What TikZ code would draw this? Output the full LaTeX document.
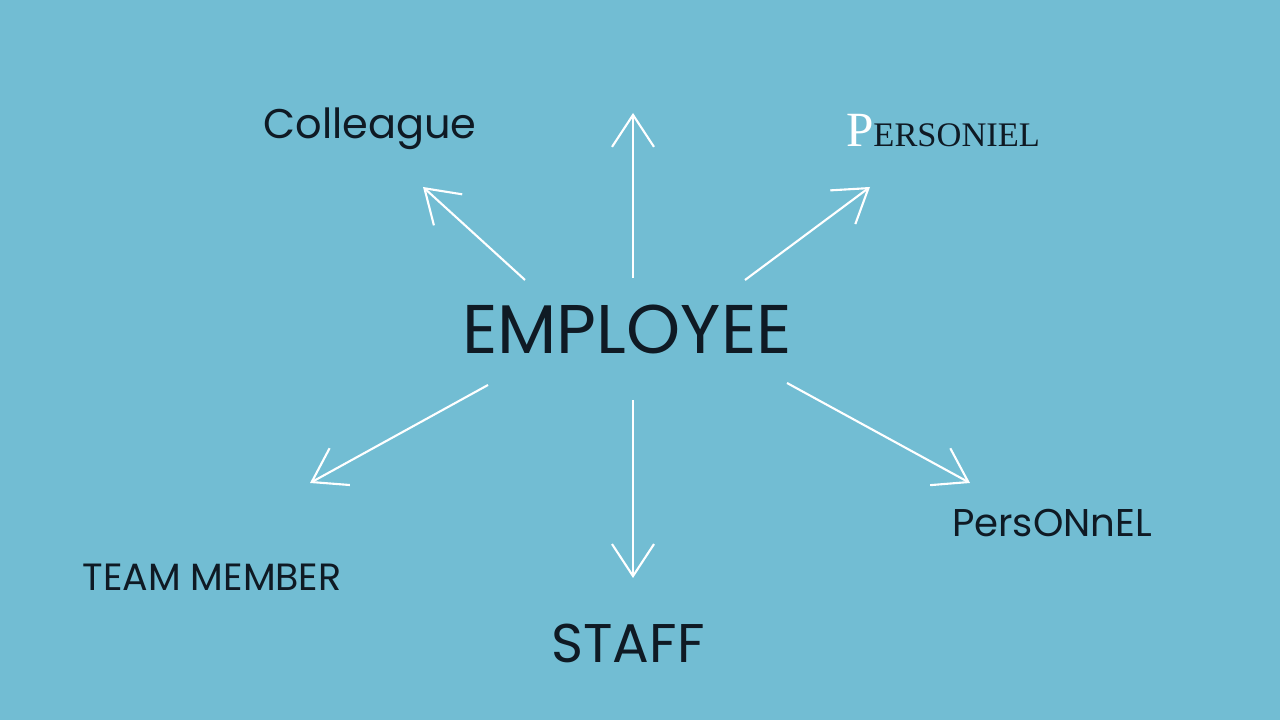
\documentclass[tikz,border=0pt]{standalone}
\usepackage{fontspec}
\setmainfont{Poppins}
\newfontfamily\serifface{Liberation Serif}
\usetikzlibrary{arrows.meta}
\definecolor{bgblue}{HTML}{72BDD3}
\definecolor{inkdark}{HTML}{0F1A24}
\begin{document}
\begin{tikzpicture}
			\tikzstyle{WORD}=[text=inkdark,inner sep=0pt]
			\tikzstyle{ARR}=[draw=white,line width=0.6pt,-{Straight Barb[length=3.2mm,width=4.2mm,line width=0.6pt]}]
			\fill[bgblue] (0,0) rectangle (12.8,7.2);
			\begin{scope}
			\node[WORD] (employee) at (6.27,3.91) {\fontsize{19.6}{21}\selectfont EMPLOYEE};
			\node[WORD] (colleague) at (3.70,5.91) {\fontsize{11.8}{14}\selectfont Colleague};
			\node[WORD] (personiel) at (9.43,5.89) {\serifface{\color{white}\fontsize{14}{16}\selectfont P}\fontsize{9.8}{12}\selectfont ERSONIEL};
			\node[WORD] (personnel) at (10.52,1.97) {\fontsize{11}{13}\selectfont PersONnEL};
			\node[WORD] (teammember) at (2.12,1.43) {\fontsize{10.8}{12}\selectfont TEAM MEMBER};
			\node[WORD] (staff) at (6.28,0.77) {\fontsize{15.5}{17}\selectfont STAFF};
			\end{scope}
			
			\coordinate (up-s) at (6.33,4.42);
			\coordinate (up-e) at (6.33,6.07);
			\coordinate (col-s) at (5.25,4.40);
			\coordinate (col-e) at (4.23,5.33);
			\coordinate (per-s) at (7.45,4.40);
			\coordinate (per-e) at (8.70,5.33);
			\coordinate (tm-s) at (4.88,3.35);
			\coordinate (tm-e) at (3.10,2.37);
			\coordinate (st-s) at (6.33,3.20);
			\coordinate (st-e) at (6.33,1.42);
			\coordinate (pn-s) at (7.87,3.37);
			\coordinate (pn-e) at (9.70,2.37);
			
			\path
			(up-s) edge[ARR] (up-e)
			(col-s) edge[ARR] (col-e)
			(per-s) edge[ARR] (per-e)
			(tm-s) edge[ARR] (tm-e)
			(st-s) edge[ARR] (st-e)
			(pn-s) edge[ARR] (pn-e)
			;
		\end{tikzpicture}
\end{document}
